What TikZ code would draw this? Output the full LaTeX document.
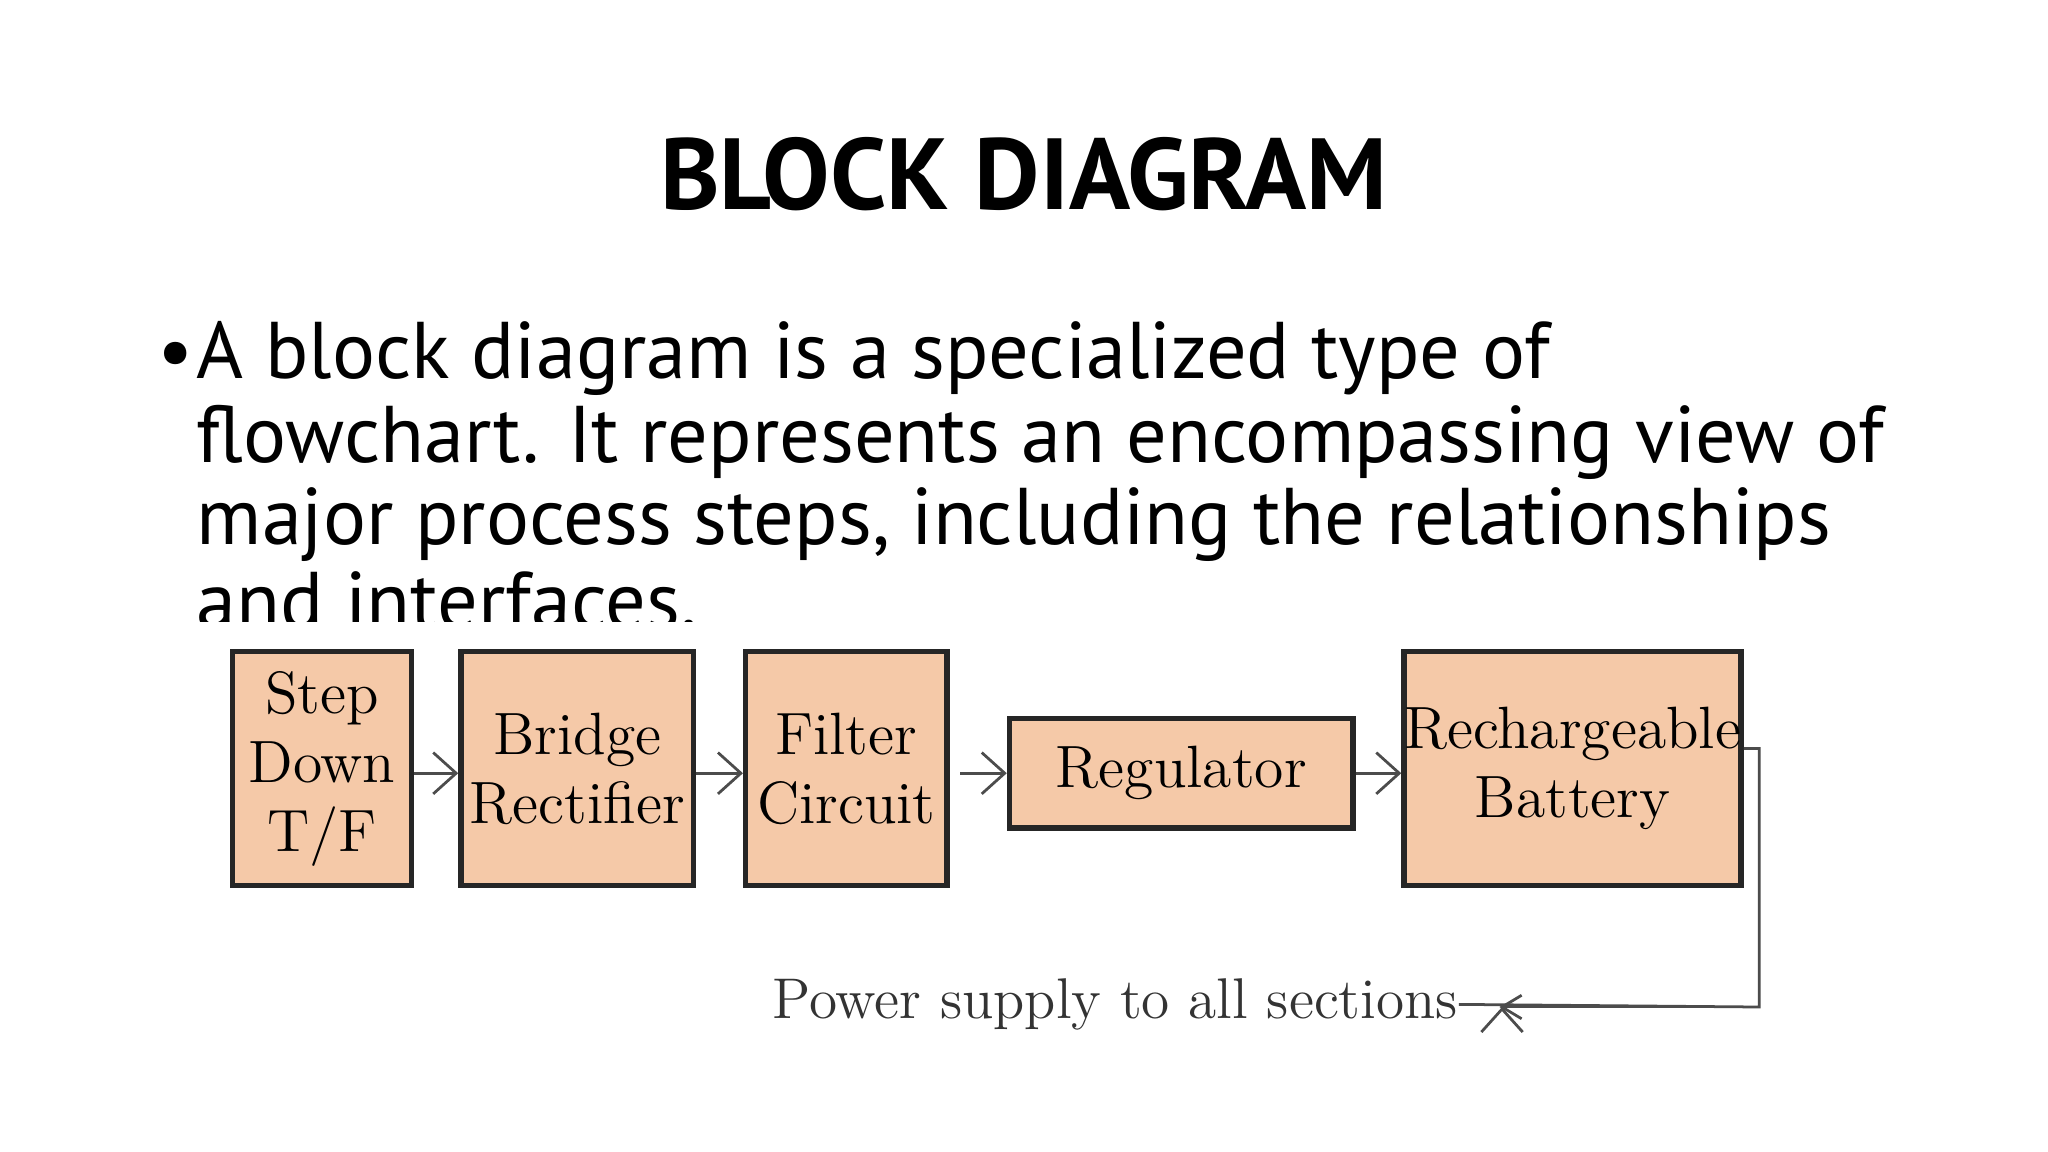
\documentclass[tikz,border=0pt]{standalone}
\usepackage{fontspec}
\newfontfamily\titlef{PT Sans}
\newfontfamily\bodyf{PT Sans}
\usetikzlibrary{arrows.meta}
\definecolor{boxfill}{HTML}{F5C9A8}
\begin{document}
\begin{tikzpicture}[x=0.01cm,y=-0.01cm,
  blk/.style={draw=black!85,line width=1.2pt,fill=boxfill,align=center,inner sep=0pt,font=\fontsize{13}{15}\selectfont},
  arr/.style={-{Straight Barb[length=5pt,width=9pt]},line width=0.6pt,draw=black!70}]
\useasboundingbox (0,0) rectangle (1568,882);
\node[font=\titlef\bfseries\fontsize{22}{26}\selectfont] (title) at (784,133) {BLOCK DIAGRAM};
\node[anchor=base west,font=\bodyf\fontsize{17.5}{20}\selectfont,inner sep=0] (b) at (120,290) {\textbullet};
\foreach \t/\y [count=\i] in {{A block diagram is a specialized type of}/290,{flowchart. It represents an encompassing view of}/354,{major process steps, including the relationships}/417,{and interfaces.}/481}
  \node[anchor=base west,font=\bodyf\fontsize{17.5}{20}\selectfont,inner sep=0] (l\i) at (150,\y) {\t};
\fill[white] (130,476) rectangle (1568,882);
\node[blk,minimum width=1.37cm,minimum height=1.79cm] (s) at (246.5,588.5) {Step\\Down\\T/F};
\node[blk,minimum width=1.78cm,minimum height=1.79cm] (br) at (442,588.5) {Bridge\\Rectifier};
\node[blk,minimum width=1.54cm,minimum height=1.79cm] (f) at (648,588.5) {Filter\\Circuit};
\node[blk,minimum width=2.63cm,minimum height=0.84cm] (r) at (904.5,592) {Regulator};
\node[blk,minimum width=2.46cm,minimum height=1.79cm] (bat) at (1204,588.5) {Rechargeable\\Battery};
\coordinate (c1) at (1347,573);
\coordinate (c2) at (1347,771);
\node[anchor=east,inner sep=0,font=\fontsize{12.5}{15}\selectfont,text=black!80] (ps) at (1117,769) {Power supply to all sections};
\draw[arr] (s.east|-0,592) -- (br.west|-0,592);
\draw[arr] (br.east|-0,592) -- (f.west|-0,592);
\draw[arr] (735,592) -- (r.west|-0,592);
\draw[arr] (r.east|-0,592) -- (bat.west|-0,592);
\draw[arr] (bat.east|-c1) -- (c1) -- (c2) -- (ps.east) ++(33,2) coordinate (e);
\draw[arr,-] (c2) -- (1150,771);
\draw[line width=0.6pt,draw=black!70] (1165,762) -- (1150,771) -- (1165,780);
\end{tikzpicture}
\end{document}
